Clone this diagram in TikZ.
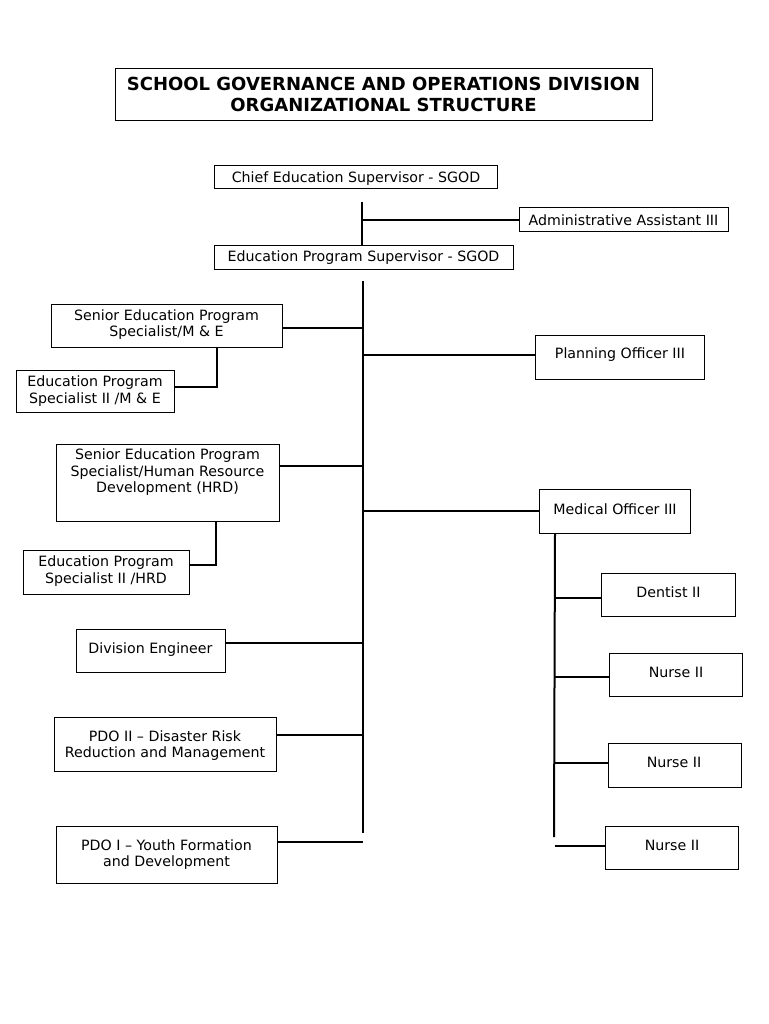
\documentclass[tikz,border=0pt]{standalone}
\usepackage{fontspec}
\setmainfont{DejaVu Sans}
\begin{document}
\begin{tikzpicture}[x=1pt,y=-1pt,
  box/.style={draw, line width=1pt, rectangle, inner sep=0pt},
  lbl/.style={align=center, inner sep=0pt, font=\fontsize{14.2}{16.5}\selectfont},
  ttl/.style={align=center, inner sep=0pt, font=\fontsize{18}{21}\selectfont\bfseries},
  conn/.style={line width=1.8pt},
  spine/.style={line width=2pt}]
\useasboundingbox[fill=white] (0,0) rectangle (768,1024);
% boxes
\node[box, minimum width=537pt, minimum height=52pt] (title) at (383.5,95) {};
\node[box, minimum width=283pt, minimum height=23pt] (chief) at (355.5,177.5) {};
\node[box, minimum width=209pt, minimum height=24pt] (admin) at (623.5,220) {};
\node[box, minimum width=299pt, minimum height=24pt] (eps) at (363.5,257) {};
\node[box, minimum width=231pt, minimum height=43pt] (srme) at (166.5,325.5) {};
\node[box, minimum width=169pt, minimum height=44pt] (plan) at (619.5,357) {};
\node[box, minimum width=158pt, minimum height=42pt] (epsme) at (95,391) {};
\node[box, minimum width=223pt, minimum height=77pt] (hrd) at (167.5,482.5) {};
\node[box, minimum width=151pt, minimum height=44pt] (med) at (614.5,511) {};
\node[box, minimum width=166pt, minimum height=44pt] (epshrd) at (106,572) {};
\node[box, minimum width=149pt, minimum height=43pt] (deng) at (150.5,650.5) {};
\node[box, minimum width=222pt, minimum height=54pt] (pdo2) at (165,744) {};
\node[box, minimum width=221pt, minimum height=57pt] (pdo1) at (166.5,854.5) {};
\node[box, minimum width=134pt, minimum height=43pt] (dent) at (668,594.5) {};
\node[box, minimum width=133pt, minimum height=43pt] (n1) at (675.5,674.5) {};
\node[box, minimum width=133pt, minimum height=44pt] (n2) at (674.5,765) {};
\node[box, minimum width=133pt, minimum height=43pt] (n3) at (671.5,847.5) {};
% texts
\node[ttl] (title-t) at (383.5,94.5) {SCHOOL GOVERNANCE AND OPERATIONS DIVISION\\ORGANIZATIONAL STRUCTURE};
\node[lbl] (chief-t) at (356,178.5) {Chief Education Supervisor - SGOD};
\node[lbl] (admin-t) at (623.5,220.5) {Administrative Assistant III};
\node[lbl] (eps-t) at (363.5,257.5) {Education Program Supervisor - SGOD};
\node[lbl] (srme-t) at (166.5,324.5) {Senior Education Program\\Specialist/M \& E};
\node[lbl] (plan-t) at (620,354.5) {Planning Officer III};
\node[lbl] (epsme-t) at (95,391) {Education Program\\Specialist II /M \& E};
\node[lbl] (hrd-t) at (167.5,472.5) {Senior Education Program\\Specialist/Human Resource\\Development (HRD)};
\node[lbl] (med-t) at (615,509.5) {Medical Officer III};
\node[lbl] (epshrd-t) at (106,571) {Education Program\\Specialist II /HRD};
\node[lbl] (deng-t) at (150.5,649.5) {Division Engineer};
\node[lbl] (pdo2-t) at (165,745.5) {PDO II -- Disaster Risk\\Reduction and Management};
\node[lbl] (pdo1-t) at (166.5,854.5) {PDO I -- Youth Formation\\and Development};
\node[lbl] (dent-t) at (668.5,592.5) {Dentist II};
\node[lbl] (n1-t) at (676,672.5) {Nurse II};
\node[lbl] (n2-t) at (674,762.5) {Nurse II};
\node[lbl] (n3-t) at (672,845.5) {Nurse II};
% connectors
\coordinate (cv) at (362,202);
\draw[conn] (cv) -- (cv |- eps.north);
\draw[conn] (362,220) coordinate (cva) -- (admin.west);
\coordinate (sp1) at (363,281);
\coordinate (sp2) at (363,833);
\draw[spine] (sp1) -- (sp2);
\draw[conn] ([yshift=-2.5pt]srme.east) -- ([yshift=-2.5pt]srme.east -| sp1);
\draw[conn] ([yshift=2pt]plan.west) -- ([yshift=2pt]plan.west -| sp1);
\draw[conn] ([xshift=50.5pt]srme.south) |- ([yshift=4pt]epsme.east);
\draw[conn] ([yshift=16.5pt]hrd.east) -- ([yshift=16.5pt]hrd.east -| sp1);
\draw[conn] (med.west) -- (med.west -| sp1);
\draw[conn] ([xshift=48.5pt]hrd.south) |- ([yshift=7pt]epshrd.east);
\draw[conn] ([yshift=7.5pt]deng.east) -- ([yshift=7.5pt]deng.east -| sp1);
\draw[conn] ([yshift=9pt]pdo2.east) -- ([yshift=9pt]pdo2.east -| sp1);
\draw[conn] ([yshift=12.5pt]pdo1.east) -- ([yshift=12.5pt]pdo1.east -| sp1);
\coordinate (ms1) at (555,533);
\coordinate (ms2) at (554,837);
\draw[spine] (ms1) -- (ms2);
\draw[conn] ([yshift=-3.5pt]dent.west) -- ([yshift=-3.5pt]dent.west -| ms1);
\draw[conn] ([yshift=-2.5pt]n1.west) -- ([yshift=-2.5pt]n1.west -| ms1);
\draw[conn] ([yshift=2pt]n2.west) -- ([yshift=2pt]n2.west -| ms1);
\draw[conn] ([yshift=1.5pt]n3.west) -- ([yshift=1.5pt]n3.west -| ms1);
\end{tikzpicture}
\end{document}
